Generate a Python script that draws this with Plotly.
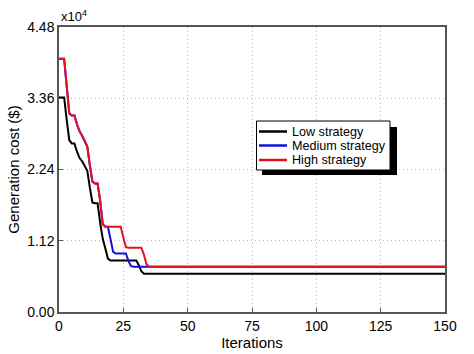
import plotly.graph_objects as go

# values in units of 1e4 $
iter_low = list(range(0, 34)) + [150]
low = [3.37, 3.37, 3.37, 3.02, 2.70, 2.65, 2.65, 2.52, 2.42, 2.37, 2.30, 2.22,
       1.95, 1.72, 1.71, 1.71, 1.40, 1.15, 1.00, 0.84, 0.81, 0.81, 0.81, 0.81,
       0.81, 0.81, 0.81, 0.81, 0.81, 0.81, 0.81, 0.74, 0.64, 0.60, 0.60]

iter_med = list(range(0, 30)) + [150]
med = [3.98, 3.98, 3.98, 3.55, 3.12, 3.09, 3.09, 2.95, 2.84, 2.77, 2.68, 2.60,
       2.30, 2.05, 2.02, 2.02, 1.75, 1.38, 1.34, 1.34, 1.15, 0.95, 0.92, 0.92,
       0.92, 0.92, 0.92, 0.80, 0.72, 0.71, 0.71]

iter_high = list(range(0, 36)) + [150]
high = [3.98, 3.98, 3.98, 3.55, 3.12, 3.09, 3.09, 2.95, 2.84, 2.77, 2.68, 2.60,
        2.30, 2.05, 2.02, 2.02, 1.75, 1.38, 1.34, 1.34, 1.34, 1.34, 1.34, 1.34,
        1.34, 1.17, 1.02, 1.01, 1.01, 1.01, 1.01, 1.01, 1.01, 0.90, 0.75, 0.71, 0.71]

x_ticks = [0, 25, 50, 75, 100, 125, 150]
y_ticks = [0.00, 1.12, 2.24, 3.36, 4.48]

series_names = ["Low strategy", "Medium strategy", "High strategy"]
series_colors = ["black", "#1010e0", "#e8101e"]

fig = go.Figure()
for xs, ys, name, col in zip([iter_low, iter_med, iter_high], [low, med, high],
                             series_names, series_colors):
    fig.add_trace(go.Scatter(x=xs, y=ys, mode="lines", name=name,
                             line=dict(color=col, width=2)))

L, R, T, B = 59, 29, 27, 42
W, H = 474, 354
pw, ph = W - L - R, H - T - B

def px(x):
    return (x - L) / pw

def py(y):
    return (H - B - y) / ph

# legend (drawn manually to match compact box with shadow)
fig.add_shape(type="rect", xref="paper", yref="paper",
              x0=px(262), x1=px(397), y0=py(175), y1=py(127),
              fillcolor="black", line=dict(width=0), layer="above")
fig.add_shape(type="rect", xref="paper", yref="paper",
              x0=px(256.5), x1=px(390), y0=py(170), y1=py(121),
              fillcolor="white", line=dict(color="black", width=1), layer="above")
row_y = [131.5, 145.5, 160]
for name, col, yy in zip(series_names, series_colors, row_y):
    fig.add_shape(type="line", xref="paper", yref="paper",
                  x0=px(259), x1=px(287), y0=py(yy), y1=py(yy),
                  line=dict(color=col, width=2.5), layer="above")
    fig.add_annotation(text=name, xref="paper", yref="paper",
                       x=px(290), y=py(yy), xanchor="left", yanchor="middle",
                       showarrow=False, font=dict(size=12.6, color="black"))

fig.add_annotation(text="x10<sup>4</sup>", xref="paper", yref="paper",
                   x=0, y=1.0, xanchor="left", yanchor="bottom", showarrow=False,
                   font=dict(size=13, color="black"), yshift=1)

grid_common = dict(showgrid=True, gridcolor="#bdbdbd", griddash="1px,3px", gridwidth=1,
                   showline=True, linecolor="#555555", linewidth=1.5, mirror=True,
                   ticks="inside", ticklen=4, tickcolor="#555555", automargin=False,
                   zeroline=False, tickfont=dict(size=14))

fig.update_layout(
    width=W, height=H,
    margin=dict(l=L, r=R, t=T, b=B),
    paper_bgcolor="white", plot_bgcolor="white",
    font=dict(family="Liberation Sans, Arial, sans-serif", color="black", size=13),
    showlegend=False,
    xaxis=dict(range=[0, 150], tickvals=x_ticks,
               title=dict(text="Iterations", font=dict(size=15), standoff=4),
               **grid_common),
    yaxis=dict(range=[0, 4.48], tickvals=y_ticks, tickformat=".2f",
               title=dict(text="Generation cost ($)", font=dict(size=15), standoff=4),
               **grid_common),
)

fig.write_html("out.html")
